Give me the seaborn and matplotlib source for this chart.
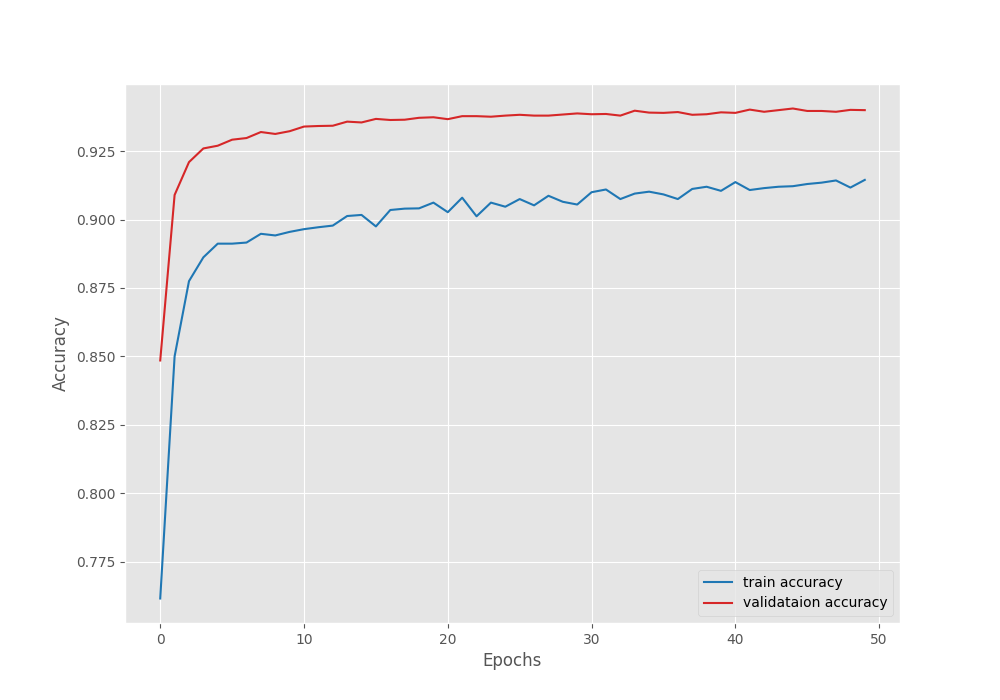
import matplotlib
matplotlib.use("Agg")
import matplotlib.pyplot as plt
import seaborn as sns
import pandas as pd

# accuracy per epoch
epochs = list(range(50))
train_acc = [0.7615, 0.850, 0.8775, 0.8862, 0.8912, 0.8912, 0.8916, 0.8948, 0.8942, 0.8955,
             0.8965, 0.8972, 0.8978, 0.9013, 0.9017, 0.8975, 0.9035, 0.9040, 0.9041, 0.9062,
             0.9027, 0.9080, 0.9012, 0.9062, 0.9047, 0.9075, 0.9052, 0.9087, 0.9065, 0.9055,
             0.9100, 0.9110, 0.9075, 0.9095, 0.9102, 0.9092, 0.9075, 0.9112, 0.9120, 0.9105,
             0.9137, 0.9108, 0.9115, 0.9120, 0.9122, 0.9130, 0.9135, 0.9143, 0.9117, 0.9145]
val_acc = [0.8485, 0.909, 0.921, 0.926, 0.927, 0.9292, 0.9298, 0.9320, 0.9313, 0.9323,
           0.9340, 0.9342, 0.9343, 0.9358, 0.9355, 0.9368, 0.9364, 0.9365, 0.9372, 0.9374,
           0.9367, 0.9378, 0.9378, 0.9376, 0.9380, 0.9383, 0.9380, 0.9380, 0.9384, 0.9388,
           0.9385, 0.9386, 0.9380, 0.9398, 0.9391, 0.9390, 0.9393, 0.9383, 0.9385, 0.9392,
           0.9390, 0.9402, 0.9394, 0.9400, 0.9406, 0.9397, 0.9397, 0.9394, 0.9401, 0.9400]

plt.style.use("ggplot")
fig, ax = plt.subplots(figsize=(10, 7), dpi=100)

df = pd.DataFrame({"epoch": epochs, "train": train_acc, "val": val_acc})
sns.lineplot(data=df, x="epoch", y="train", color="tab:blue", label="train accuracy", ax=ax)
sns.lineplot(data=df, x="epoch", y="val", color="tab:red", label="validataion accuracy", ax=ax)

ax.set_xlabel("Epochs")
ax.set_ylabel("Accuracy")
ax.legend(loc="lower right", facecolor="#e5e5e5", edgecolor="#cccccc", framealpha=0.8)

plt.savefig("out.png", dpi=100)
